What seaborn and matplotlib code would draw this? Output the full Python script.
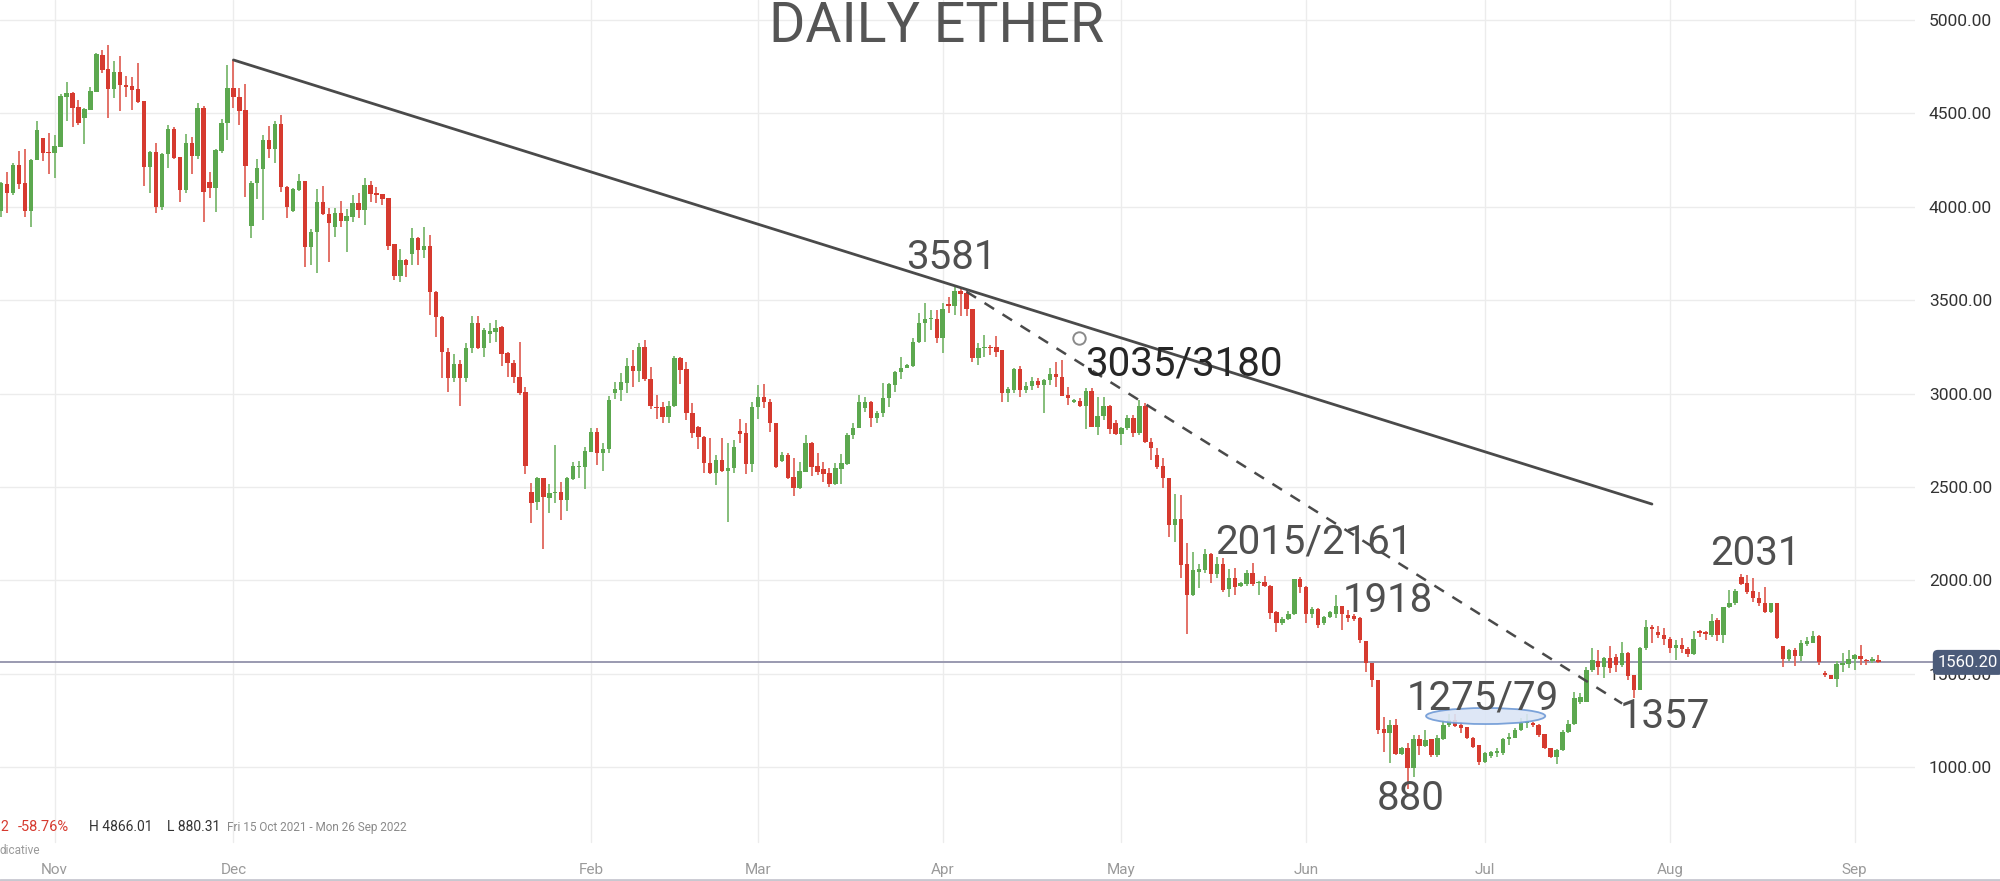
############################# Set-up ################################

# Imports
import pandas as pd
import matplotlib
matplotlib.use("Agg")
import matplotlib.pyplot as plt
import matplotlib.transforms as mtransforms
from matplotlib.patches import Ellipse
import seaborn as sns

# Daily ether candles, 23 Oct 2021 - 5 Sep 2022 (the feed has no 25 Dec / 1 Jan bar)
opens = [
    3977, 4121, 4071, 4223, 4125, 3977, 4250, 4366, 4293, 4289,
    4321, 4589, 4610, 4535, 4473, 4519, 4616, 4812, 4737, 4630,
    4723, 4651, 4646, 4628, 4568, 4211, 4294, 4000, 4282, 4418,
    4268, 4089, 4344, 4271, 4530, 4130, 4098, 4300, 4446, 4637,
    4589, 4518, 3897, 4125, 4202, 4357, 4309, 4445, 4107, 3979,
    4090, 4138, 3783, 3863, 4027, 3961, 3893, 3965, 3925, 3947,
    4018, 3982, 4116, 4072, 4068, 4045, 3799, 3631, 3715, 3745,
    3834, 3768, 3790, 3545, 3412, 3224, 3081, 3156, 3085, 3242,
    3380, 3246, 3317, 3331, 3354, 3219, 3165, 3090, 3010, 2474,
    2417, 2546, 2442, 2466, 2474, 2430, 2540, 2605, 2609, 2688,
    2796, 2683, 2701, 3004, 3019, 3058, 3147, 3122, 3251, 3078,
    2929, 2926, 2876, 2933, 3192, 3129, 2897, 2822, 2769, 2630,
    2572, 2644, 2587, 2603, 2799, 2787, 2621, 2926, 2983, 2956,
    2840, 2640, 2671, 2555, 2492, 2581, 2737, 2614, 2596, 2576,
    2515, 2596, 2621, 2778, 2817, 2924, 2956, 2867, 2894, 2974,
    3045, 3113, 3138, 3149, 3274, 3376, 3397, 3397, 3295, 3479,
    3469, 3551, 3540, 3451, 3189, 3242, 3251, 3251, 3233, 3001,
    3019, 3130, 3019, 3040, 3067, 3046, 3072, 3104, 3090, 2992,
    2956, 2962, 2933, 3015, 2823, 2880, 2933, 2840, 2783, 2814,
    2871, 2787, 2933, 2742, 2671, 2612, 2546, 2296, 2327, 2087,
    1921, 2046, 2055, 2139, 2034, 2087, 1952, 2011, 1970, 1980,
    2041, 1984, 1989, 1970, 1832, 1770, 1791, 1820, 2005, 1966,
    1820, 1845, 1770, 1802, 1820, 1862, 1814, 1808, 1796, 1674,
    1555, 1466, 1201, 1183, 1225, 1069, 1100, 993, 1148, 1112,
    1148, 1064, 1148, 1225, 1251, 1225, 1212, 1158, 1117, 1028,
    1057, 1073, 1073, 1148, 1158, 1198, 1234, 1234, 1225, 1176,
    1100, 1051, 1091, 1189, 1232, 1349, 1349, 1522, 1569, 1533,
    1585, 1590, 1546, 1612, 1492, 1415, 1635, 1751, 1724, 1706,
    1688, 1635, 1653, 1631, 1605, 1730, 1724, 1706, 1787, 1706,
    1855, 1876, 2015, 1983, 1942, 1906, 1880, 1831, 1876, 1647,
    1576, 1626, 1594, 1658, 1665, 1701, 1506, 1492, 1471, 1546,
    1551, 1578, 1594, 1573, 1569, 1574,
]
highs = [
    4134, 4184, 4232, 4298, 4309, 4255, 4459, 4366, 4396, 4384,
    4603, 4666, 4615, 4571, 4527, 4639, 4821, 4839, 4866.01, 4782,
    4807, 4700, 4696, 4768, 4568, 4300, 4344, 4290, 4437, 4428,
    4268, 4389, 4375, 4557, 4540, 4187, 4310, 4468, 4759, 4786,
    4637, 4655, 4138, 4256, 4384, 4432, 4459, 4491, 4110, 4100,
    4175, 4140, 3881, 4093, 4113, 3995, 3991, 4031, 3986, 4063,
    4072, 4152, 4138, 4107, 4070, 4048, 3800, 3774, 3718, 3884,
    3836, 3893, 3849, 3549, 3414, 3246, 3210, 3180, 3269, 3415,
    3415, 3349, 3376, 3394, 3362, 3222, 3180, 3274, 3037, 2519,
    2555, 2548, 2514, 2724, 2524, 2555, 2635, 2640, 2712, 2813,
    2813, 2733, 2987, 3063, 3108, 3188, 3233, 3272, 3286, 3144,
    2992, 2956, 2962, 3201, 3195, 3167, 2951, 2825, 2772, 2763,
    2671, 2760, 2737, 2751, 2862, 2840, 2956, 3045, 3049, 2971,
    2842, 2688, 2680, 2653, 2631, 2778, 2740, 2680, 2635, 2603,
    2626, 2674, 2787, 2840, 2992, 2983, 2958, 2906, 3054, 3054,
    3120, 3197, 3158, 3299, 3433, 3483, 3447, 3447, 3483, 3519,
    3581, 3563, 3560, 3453, 3269, 3313, 3260, 3308, 3235, 3037,
    3135, 3147, 3063, 3090, 3081, 3076, 3135, 3171, 3180, 3033,
    2972, 2974, 3028, 3028, 2983, 2983, 2939, 2858, 2823, 2885,
    2885, 2965, 2948, 2760, 2707, 2653, 2548, 2462, 2457, 2198,
    2153, 2087, 2166, 2144, 2123, 2118, 2059, 2064, 1993, 2055,
    2091, 1998, 2023, 1972, 1837, 1805, 1837, 2008, 2019, 1968,
    1859, 1850, 1809, 1837, 1921, 1864, 1840, 1820, 1805, 1676,
    1557, 1468, 1269, 1251, 1255, 1108, 1126, 1171, 1171, 1198,
    1150, 1171, 1251, 1282, 1283, 1242, 1214, 1160, 1119, 1082,
    1087, 1100, 1153, 1180, 1207, 1260, 1282, 1242, 1230, 1178,
    1102, 1096, 1200, 1250, 1400, 1398, 1533, 1635, 1626, 1590,
    1647, 1605, 1671, 1615, 1494, 1640, 1787, 1758, 1755, 1742,
    1694, 1680, 1689, 1640, 1730, 1732, 1726, 1817, 1796, 1858,
    1947, 1951, 2031, 2028, 2010, 1938, 1962, 1880, 1878, 1649,
    1630, 1635, 1680, 1694, 1730, 1706, 1514, 1494, 1567, 1608,
    1626, 1605, 1653, 1576, 1587, 1599,
]
lows = [
    3943, 3968, 4062, 4093, 3943, 3893, 4250, 4245, 4173, 4155,
    4321, 4459, 4428, 4440, 4334, 4519, 4616, 4718, 4477, 4580,
    4512, 4589, 4518, 4555, 4111, 4071, 3964, 3982, 4210, 4258,
    4027, 4071, 4175, 4254, 3920, 4045, 3973, 4286, 4357, 4527,
    4438, 4054, 3834, 4041, 3929, 4259, 4232, 4081, 3938, 3974,
    4085, 3675, 3688, 3647, 3955, 3702, 3840, 3893, 3759, 3920,
    3941, 3902, 4023, 4018, 4010, 3768, 3608, 3595, 3625, 3688,
    3688, 3724, 3420, 3304, 3081, 3006, 3063, 2935, 3060, 3215,
    3238, 3197, 3272, 3278, 3149, 3090, 3055, 2992, 2567, 2308,
    2376, 2167, 2358, 2412, 2323, 2371, 2537, 2550, 2489, 2685,
    2617, 2585, 2680, 2969, 2962, 3001, 3037, 3063, 3069, 2915,
    2862, 2840, 2840, 2930, 3051, 2858, 2760, 2703, 2572, 2568,
    2510, 2580, 2310, 2572, 2737, 2567, 2581, 2862, 2920, 2796,
    2603, 2631, 2542, 2453, 2490, 2580, 2558, 2564, 2528, 2501,
    2510, 2514, 2616, 2756, 2815, 2903, 2822, 2840, 2876, 2929,
    3010, 3078, 3134, 3140, 3269, 3278, 3340, 3269, 3219, 3430,
    3421, 3415, 3415, 3171, 3153, 3197, 3205, 3197, 2956, 2956,
    3001, 2983, 3005, 3019, 3028, 2894, 3046, 3037, 2985, 2939,
    2950, 2929, 2808, 2820, 2778, 2858, 2783, 2778, 2724, 2805,
    2769, 2778, 2733, 2644, 2594, 2493, 2234, 2207, 2011, 1712,
    1918, 1957, 2037, 1984, 2011, 1939, 1909, 1921, 1962, 1971,
    1970, 1921, 1962, 1791, 1725, 1761, 1788, 1814, 1934, 1770,
    1797, 1743, 1761, 1797, 1797, 1734, 1778, 1780, 1665, 1510,
    1430, 1176, 1082, 1023, 1066, 1064, 880.31, 948, 1064, 1109,
    1055, 1055, 1144, 1216, 1216, 1180, 1148, 1100, 1010, 1023,
    1046, 1055, 1064, 1117, 1153, 1194, 1207, 1216, 1162, 1094,
    1046, 1016, 1085, 1180, 1225, 1340, 1349, 1510, 1492, 1474,
    1501, 1510, 1537, 1465, 1367, 1410, 1626, 1665, 1689, 1653,
    1612, 1573, 1608, 1590, 1599, 1697, 1680, 1694, 1676, 1665,
    1849, 1867, 1974, 1929, 1885, 1862, 1826, 1822, 1683, 1533,
    1569, 1540, 1569, 1648, 1662, 1546, 1483, 1469, 1430, 1510,
    1528, 1519, 1546, 1546, 1555, 1558,
]
closes = [
    4125, 4071, 4223, 4121, 3977, 4250, 4410, 4289, 4289, 4325,
    4594, 4610, 4530, 4450, 4523, 4619, 4816, 4732, 4630, 4723,
    4651, 4643, 4625, 4562, 4211, 4294, 4000, 4282, 4418, 4262,
    4089, 4344, 4271, 4530, 4080, 4098, 4303, 4450, 4637, 4589,
    4514, 4220, 4128, 4206, 4357, 4309, 4445, 4104, 4000, 4095,
    4138, 3783, 3866, 4027, 3959, 3915, 3965, 3925, 3950, 4018,
    3982, 4116, 4068, 4063, 4041, 3791, 3631, 3715, 3688, 3834,
    3768, 3790, 3542, 3408, 3224, 3081, 3156, 3085, 3246, 3380,
    3242, 3340, 3335, 3353, 3212, 3162, 3087, 3001, 2612, 2416,
    2546, 2444, 2466, 2474, 2430, 2546, 2612, 2612, 2694, 2796,
    2683, 2703, 2965, 3022, 3063, 3147, 3122, 3251, 3076, 2933,
    2924, 2876, 2933, 3192, 3126, 2894, 2787, 2765, 2626, 2572,
    2644, 2585, 2603, 2715, 2783, 2621, 2929, 2983, 2953, 2840,
    2608, 2671, 2549, 2496, 2585, 2737, 2608, 2578, 2569, 2515,
    2599, 2626, 2778, 2817, 2956, 2956, 2867, 2897, 2974, 3049,
    3117, 3138, 3153, 3278, 3379, 3399, 3401, 3295, 3451, 3469,
    3551, 3533, 3451, 3189, 3242, 3251, 3242, 3224, 3001, 3022,
    3130, 3019, 3040, 3067, 3046, 3072, 3104, 3090, 2987, 2974,
    2965, 2933, 3015, 2823, 2880, 2933, 2808, 2783, 2814, 2871,
    2787, 2933, 2742, 2707, 2609, 2546, 2296, 2327, 2082, 1921,
    2055, 2061, 2139, 2034, 2087, 1948, 2011, 1966, 1984, 2041,
    1980, 1993, 1970, 1823, 1770, 1791, 1820, 2005, 1966, 1820,
    1845, 1761, 1805, 1832, 1862, 1820, 1796, 1790, 1680, 1555,
    1466, 1198, 1183, 1225, 1069, 1100, 993, 1148, 1112, 1144,
    1064, 1153, 1225, 1251, 1219, 1207, 1153, 1109, 1028, 1076,
    1082, 1087, 1148, 1162, 1198, 1237, 1248, 1225, 1171, 1100,
    1051, 1091, 1189, 1232, 1367, 1373, 1522, 1573, 1533, 1585,
    1528, 1546, 1612, 1487, 1415, 1635, 1751, 1738, 1706, 1683,
    1635, 1653, 1630, 1605, 1685, 1719, 1710, 1783, 1706, 1855,
    1880, 1942, 1980, 1938, 1903, 1880, 1831, 1876, 1689, 1576,
    1626, 1594, 1662, 1674, 1701, 1564, 1492, 1471, 1549, 1555,
    1578, 1599, 1576, 1567, 1576, 1560.2,
]

# Calendar of the bars
first_day = "2021-10-23"
last_day = "2022-09-05"
skipped_days = ["2021-12-25", "2022-01-01"]

# Price axis
price_ticks = [1000, 1500, 2000, 2500, 3000, 3500, 4000, 4500, 5000]
last_price = 1560.20

# Drawn levels (bar index, price)
trend_x = [39, 277]
trend_y = [4786, 2408]
dash_x = [162, 272]
dash_y = [3545, 1340]
marker_x = [180.9]
marker_y = [3297]
zone_x = 249.1
zone_y = 1273
zone_w = 20
zone_h = 86

# Chart notes (bar index, price)
note_labels = ["3581", "3035/3180", "2015/2161", "1918", "1275/79", "1357", "880", "2031"]
note_x = [159.4, 198.5, 220.3, 232.7, 248.7, 279.2, 236.6, 294.3]
note_y = [3726, 3158, 2205, 1894, 1369, 1268, 834, 2141]

# Summary strip at the bottom left
summary_texts = ["2", "-58.76%", "H 4866.01", "L 880.31", "Fri 15 Oct 2021 - Mon 26 Sep 2022"]

#List of colours
up_col = "#5ca84f"
down_col = "#d63a2f"
up_wick = "#7cb96f"
down_wick = "#e0665c"
grid_col = "#ececec"
note_col = "#505050"

############################# Build the data ################################

dates = pd.date_range(first_day, last_day).drop(pd.to_datetime(skipped_days))
df = pd.DataFrame({"date": dates, "open": opens, "high": highs, "low": lows, "close": closes})
df["idx"] = range(len(df))
df["up"] = df["close"] >= df["open"]
df["body_low"] = df[["open", "close"]].min(axis = 1)
df["body_h"] = (df["close"] - df["open"]).abs().clip(lower = 6)
print(df.shape)

# Month labels at the first bar of a month
months = df[df["date"].dt.day == 1]

############################# Plot ################################

sns.set_theme(style = "white")
plt.rcParams["font.family"] = ["Roboto", "DejaVu Sans"]

fig = plt.figure(figsize = (20, 8.81), dpi = 100)
ax = fig.add_axes([0, 0, 1915 / 2000, 1])

# Horizontal and vertical grid
for p in price_ticks:
    ax.axhline(p, color = grid_col, lw = 1, zorder = 0)
for j in months["idx"]:
    ax.axvline(j, ymin = 0.0443, ymax = 1, color = grid_col, lw = 1, zorder = 0)

# Candles: wicks then bodies
up = df[df["up"]]
dn = df[~df["up"]]
ax.vlines(up["idx"], up["low"], up["high"], color = up_wick, lw = 1.3, zorder = 2)
ax.vlines(dn["idx"], dn["low"], dn["high"], color = down_wick, lw = 1.3, zorder = 2)
ax.bar(up["idx"], up["body_h"], bottom = up["body_low"], width = 0.74, color = up_col, linewidth = 0, zorder = 3)
ax.bar(dn["idx"], dn["body_h"], bottom = dn["body_low"], width = 0.74, color = down_col, linewidth = 0, zorder = 3)

# Last price line
ax.axhline(last_price, xmin = 0, xmax = 1.011, color = "#9a9ab0", lw = 1.4, zorder = 1, clip_on = False)

# Trend lines, marker and zone
ax.plot(trend_x, trend_y, color = "#4a4a4a", lw = 2.0, solid_capstyle = "round", zorder = 4)
ax.plot(dash_x, dash_y, color = "#4a4a4a", lw = 1.8, ls = (0, (4.5, 4)), zorder = 4)
ax.scatter(marker_x, marker_y, s = 80, facecolor = "white", edgecolor = "#8a8a8a", linewidth = 1.4, zorder = 5)
ax.add_patch(Ellipse((zone_x, zone_y), zone_w, zone_h, facecolor = "#dbe5f5", edgecolor = "#6f9ad6",
                     lw = 1.3, alpha = 0.9, zorder = 4))

# Notes
for lab, x, y in zip(note_labels, note_x, note_y):
    col = "#262626" if lab == "3035/3180" else note_col
    ax.text(x, y, lab, ha = "center", va = "center", fontsize = 29, color = col, zorder = 6)

# Axis limits
ax.set_xlim(-0.17, -0.17 + 1915 / 5.96)
ax.set_ylim(389.6, 5107.1)

# Price labels on the right
ax.yaxis.tick_right()
ax.set_yticks(price_ticks)
ax.set_yticklabels([f"{p:.2f}" for p in price_ticks])
ax.tick_params(axis = "y", length = 0, pad = 10, labelsize = 12.5, labelcolor = "#333333")
ax.set_xticks([])
sns.despine(ax = ax, top = True, right = True, left = True, bottom = True)

# Month labels
trans = mtransforms.blended_transform_factory(ax.transData, ax.transAxes)
for j, d in zip(months["idx"], months["date"]):
    ax.text(j, 0.0125, d.strftime("%b"), transform = trans, ha = "center", va = "center",
            fontsize = 11, color = "#9a9a9a")

# Last price box
ytrans = mtransforms.blended_transform_factory(ax.transAxes, ax.transData)
ax.text(1968 / 1915, last_price, f"{last_price:.2f}", transform = ytrans, ha = "center", va = "center",
        fontsize = 12, color = "white", zorder = 10, clip_on = False,
        bbox = dict(boxstyle = "round,pad=0.3,rounding_size=0.3", facecolor = "#4b5b79", edgecolor = "none"))

# Title
fig.text(937 / 2000, 1 - 27 / 881, "DAILY ETHER", ha = "center", va = "center", fontsize = 40,
         color = "#555555", fontweight = "normal")

# Summary strip
summary_x = [0, 18, 89, 167, 227]
summary_cols = [down_col, down_col, "#333333", "#333333", "#8a8a8a"]
summary_size = [10, 10.5, 10, 10, 8.5]
for t, x, c, s in zip(summary_texts, summary_x, summary_cols, summary_size):
    fig.text(x / 2000, 1 - 827 / 881, t, ha = "left", va = "center", fontsize = s, color = c)
fig.text(0, 1 - 851 / 881, "dicative", ha = "left", va = "center", fontsize = 8.5, color = "#9a9a9a")

# Bottom border
fig.add_artist(plt.Line2D([0, 1], [1.5 / 881, 1.5 / 881], transform = fig.transFigure, color = "#c8c8d0", lw = 2))

# Save plot
fig.savefig("out.png", dpi = 100)
plt.close()

print("✅ Plot saved to: out.png")
